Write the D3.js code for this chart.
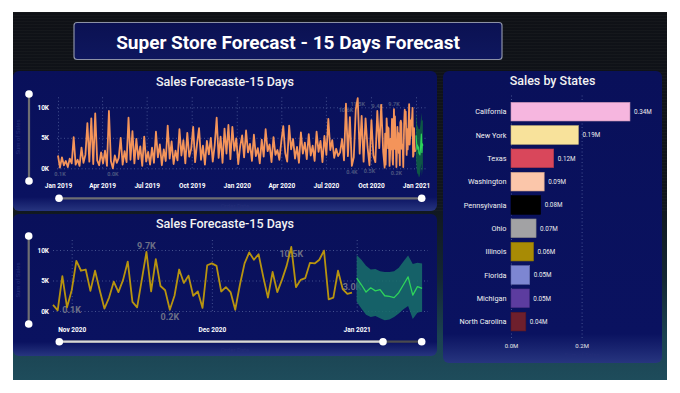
<!DOCTYPE html>
<html>
<head>
<meta charset="utf-8">
<script src="https://cdn.jsdelivr.net/npm/d3@7/dist/d3.min.js"></script>
<style>
  html, body { margin:0; padding:0; background:#fff; }
  svg { display:block; font-family: Roboto, "Open Sans", sans-serif; }
</style>
</head>
<body>
<svg id="dash" width="680" height="393"></svg>
<script>
// ===== data (sales in K) =====
// sampled every 4 days from 1 Jan 2019 to 26 Oct 2020
var salesEvery4Days = [
  2.1, 0.1, 1.8, 0.5, 1.2, 0.2, 1.6, 0.8,
  5.1, 0.6, 1.4, 0.4, 3.4, 0.9, 2.2, 7.4,
  1.1, 8.2, 0.7, 9.0, 1.3, 0.5, 2.6, 0.8,
  2.9, 0.4, 9.4, 1.2, 0.0, 2.1, 0.9, 1.7,
  5.0, 0.6, 2.8, 1.0, 8.3, 1.4, 6.1, 0.8,
  4.8, 1.5, 3.6, 0.4, 5.2, 1.1, 2.7, 0.6,
  3.4, 0.9, 6.0, 1.8, 3.9, 0.5, 3.1, 1.2,
  7.0, 1.6, 4.4, 0.7, 2.9, 1.3, 6.4, 2.1,
  4.6, 0.8, 5.8, 1.9, 3.2, 6.8, 1.0, 4.1,
  6.6, 1.4, 3.7, 0.6, 4.5, 2.3, 5.0, 1.1,
  3.8, 8.3, 1.7, 5.2, 0.9, 6.5, 2.4, 7.1,
  1.5, 6.8, 2.9, 4.9, 0.7, 3.6, 5.4, 1.8,
  6.2, 2.6, 4.0, 1.2, 5.5, 2.0, 3.3, 0.8,
  4.7, 1.9, 6.4, 2.8, 3.9, 1.0, 5.1, 2.2,
  3.0, 1.4, 4.4, 6.9, 2.5, 1.1, 7.0, 3.1,
  4.8, 1.6, 3.5, 0.9, 5.9, 2.4, 4.2, 1.5,
  5.6, 2.1, 3.7, 1.2, 6.0, 2.7, 4.5, 1.0,
  5.3, 2.2, 8.1, 3.0, 4.6, 1.7, 3.2, 2.0,
  2.6, 4.8, 1.3, 10.6, 2.0, 8.4, 0.4, 1.8,
  9.6, 11.5, 2.4, 8.6, 1.1, 8.2, 3.5, 0.5,
  7.9, 2.1, 1.0, 9.4, 3.3, 10.4, 2.7
];
// daily, 28 Oct 2020 to 31 Dec 2020
var salesDaily = [
  1.0, 0.1, 5.7, 0.6,
  3.4, 8.2, 6.6, 6.8, 3.3, 6.6, 3.4, 0.4, 2.2, 4.8,
  3.1, 5.1, 8.1, 1.5, 0.6, 5.1, 9.7, 3.2, 8.5, 4.1,
  3.4, 0.2, 2.5, 6.8, 4.6, 5.8, 2.5, 3.2, 0.5, 7.5,
  7.8, 7.4, 3.2, 3.9, 3.1, 0.2, 4.3, 7.8, 9.6, 8.4,
  9.3, 5.6, 2.2, 6.4, 3.1, 5.1, 7.4, 10.5, 3.9, 5.1,
  5.4, 7.9, 7.8, 8.4, 9.9, 1.9, 2.2, 6.6, 3.6, 2.8, 3.0
];
// 15 day forecast, 1 Jan 2021 to 15 Jan 2021
var forecastSales = [5.4, 4.3, 3.1, 3.8, 3.3, 3.5, 2.5, 2.4, 2.2, 3.0, 4.3, 5.6, 2.6, 4.0, 3.7];
var forecastUpper = [9.2, 8.4, 7.4, 6.8, 6.9, 6.5, 6.4, 6.4, 6.5, 7.1, 8.1, 9.1, 7.7, 7.9, 7.8];
var forecastLower = [1.5, 0.4, -0.6, -1.0, -0.8, -1.2, -1.5, -1.4, -1.0, -0.4, 0.3, 0.8, -1.3, -0.3, -0.1];

var salesTicks = [0, 5, 10];
// [date, value, side]
var overviewLabels = [
  ["2019-01-05", 0.1, "below"], ["2019-04-23", 0.0, "below"],
  ["2020-08-11", 10.6, "below"], ["2020-09-04", 11.5, "below"],
  ["2020-10-14", 9.4, "above"], ["2020-11-17", 9.7, "above"],
  ["2020-08-23", 0.4, "below"], ["2020-09-28", 0.5, "below"],
  ["2020-11-22", 0.2, "below"]
];
var recentLabels = [
  ["2020-10-29", 0.1, "right"], ["2020-11-17", 9.7, "above"],
  ["2020-11-22", 0.2, "below"], ["2020-12-18", 10.5, "below"],
  ["2020-12-31", 3.0, "above"]
];

var states = ["California", "New York", "Texas", "Washington", "Pennsylvania",
              "Ohio", "Illinois", "Florida", "Michigan", "North Carolina"];
var stateSales = [0.337, 0.191, 0.121, 0.094, 0.084, 0.071, 0.064, 0.053, 0.052, 0.042];
var stateColors = ["#f6b6df", "#f8e29b", "#d9475b", "#fbc6aa", "#000000",
                   "#a2a2a4", "#a88b05", "#7d86d2", "#5c3c9f", "#6e1f2d"];
var stateTicks = [0, 0.2];

// ===== setup =====
var parseDay = d3.timeParse("%Y-%m-%d");
var start2019 = new Date(2019, 0, 1);
var startDaily = new Date(2020, 9, 28);
var startForecast = new Date(2021, 0, 1);

var overviewSeries = salesEvery4Days.map(function(v, i){
  return {date: d3.timeDay.offset(start2019, 4 * i), v: v};
}).concat(salesDaily.map(function(v, i){
  return {date: d3.timeDay.offset(startDaily, i), v: v};
}));
var recentSeries = salesDaily.map(function(v, i){
  return {date: d3.timeDay.offset(startDaily, i), v: v};
});
var forecastSeries = forecastSales.map(function(v, i){
  return {date: d3.timeDay.offset(startForecast, i), v: v, hi: forecastUpper[i], lo: forecastLower[i]};
});

var svg = d3.select("#dash");
var defs = svg.append("defs");

function vGradient(id, stops){
  var g = defs.append("linearGradient").attr("id", id)
    .attr("x1", 0).attr("y1", 0).attr("x2", 0).attr("y2", 1);
  stops.forEach(function(s){
    g.append("stop").attr("offset", s[0]).attr("stop-color", s[1]);
  });
}
vGradient("bgGrad", [["0%", "#0f1116"], ["50%", "#10151c"], ["72%", "#132633"], ["88%", "#1a4150"], ["100%", "#1e4c5b"]]);
vGradient("panelGrad", [["0%", "#09105a"], ["90%", "#0a1260"], ["100%", "#27357f"]]);
vGradient("titleGrad", [["0%", "#0b1152"], ["100%", "#0e175e"]]);

// stripes on the dark background
var stripes = defs.append("pattern").attr("id", "stripes")
  .attr("width", 4).attr("height", 3).attr("patternUnits", "userSpaceOnUse");
stripes.append("rect").attr("width", 4).attr("height", 1).attr("fill", "#ffffff").attr("opacity", 0.025);

svg.append("rect").attr("x", 13).attr("y", 12).attr("width", 654).attr("height", 368).attr("fill", "url(#bgGrad)");
svg.append("rect").attr("x", 13).attr("y", 12).attr("width", 654).attr("height", 200).attr("fill", "url(#stripes)");

// title box
svg.append("rect").attr("x", 74).attr("y", 22.5).attr("width", 428).attr("height", 37).attr("rx", 3)
  .attr("fill", "url(#titleGrad)").attr("stroke", "#8c91a6").attr("stroke-width", 1.2);
svg.append("text").attr("x", 288).attr("y", 48.5).attr("text-anchor", "middle")
  .attr("fill", "#ffffff").style("font-size", "19px").style("font-weight", 700)
  .text("Super Store Forecast - 15 Days Forecast");

// panels
function panel(x, y, w, h, title, ty){
  svg.append("rect").attr("x", x).attr("y", y).attr("width", w).attr("height", h).attr("rx", 6)
    .attr("fill", "url(#panelGrad)");
  svg.append("text").attr("x", x + w / 2).attr("y", ty).attr("text-anchor", "middle")
    .attr("fill", "#f2f2f2").style("font-size", "12.5px").style("font-weight", 500)
    .text(title);
}
panel(13, 71, 424, 140, "Sales Forecaste-15 Days", 85.5);
panel(13, 214, 424, 142, "Sales Forecaste-15 Days", 227.5);
panel(443, 71, 219, 292, "Sales by States", 84.5);

function slider(x1, y1, x2, y2, split){
  var g = svg.append("g");
  g.append("line").attr("x1", x1).attr("y1", y1).attr("x2", x2).attr("y2", y2)
    .attr("stroke", split ? "#4a4a4e" : "#6e6e72").attr("stroke-width", 2.2);
  var pts = [[x1, y1], [x2, y2]];
  if(split){
    g.append("line").attr("x1", x1).attr("y1", y1).attr("x2", split).attr("y2", y2)
      .attr("stroke", "#d9d9d9").attr("stroke-width", 2.2);
    pts.push([split, y1]);
  }
  g.selectAll("circle").data(pts).enter().append("circle")
    .attr("cx", function(d){ return d[0]; }).attr("cy", function(d){ return d[1]; })
    .attr("r", 3.8).attr("fill", "#ffffff");
}

function faintText(x, y, txt, rot){
  var t = svg.append("text").attr("x", x).attr("y", y).attr("text-anchor", "middle")
    .attr("fill", "#232d78").style("font-size", "6px").text(txt);
  if(rot) t.attr("transform", "rotate(-90," + x + "," + y + ")");
}

// ===== line chart =====
function lineChart(c){
  var g = svg.append("g");
  var x = d3.scaleTime().domain(c.xDomain).range(c.xRange);
  var y = d3.scaleLinear().domain([0, 10]).range(c.yRange);

  // grid
  g.append("g").attr("transform", "translate(" + c.gridLeft + ",0)")
    .call(d3.axisLeft(y).tickValues(salesTicks).tickSize(-(c.gridRight - c.gridLeft)).tickFormat(""))
    .call(function(a){ a.select(".domain").remove(); })
    .selectAll("line").attr("stroke", "#44518f").attr("stroke-dasharray", "1,2.5");
  g.append("g").attr("transform", "translate(0," + y(0) + ")")
    .call(d3.axisBottom(x).ticks(c.tickEvery).tickSize(-(y(0) - c.gridTop)).tickFormat(""))
    .call(function(a){ a.select(".domain").remove(); })
    .selectAll("line").attr("stroke", "#44518f").attr("stroke-dasharray", "1,2.5");

  // axes labels
  var ya = g.append("g").attr("transform", "translate(" + c.yLabelX + ",0)")
    .call(d3.axisLeft(y).tickValues(salesTicks).tickSize(0).tickPadding(0)
      .tickFormat(function(d){ return d + "K"; }));
  var xa = g.append("g").attr("transform", "translate(0," + c.xLabelY + ")")
    .call(d3.axisBottom(x).ticks(c.tickEvery).tickSize(0).tickPadding(0)
      .tickFormat(d3.timeFormat("%b %Y")));
  [ya, xa].forEach(function(a){
    a.select(".domain").remove();
    a.selectAll("text").attr("fill", "#ffffff").style("font-size", "6.5px").style("font-weight", 700)
      .style("font-family", "Roboto, sans-serif");
  });

  // data labels (behind the line)
  g.append("g").selectAll("text").data(c.labels).enter().append("text")
    .attr("x", function(d){ return x(parseDay(d[0])) + (d[2] == "right" ? c.rightShift : 0); })
    .attr("y", function(d){
      if(d[2] == "above") return y(d[1]) - 3;
      if(d[2] == "below") return y(d[1]) + c.belowShift;
      return y(d[1]) + 3;
    })
    .attr("text-anchor", "middle").attr("fill", c.labelColor)
    .style("font-size", c.labelSize).style("font-weight", 700)
    .text(function(d){ return d3.format(".1f")(d[1]) + "K"; });

  // forecast band and line
  var band = d3.area().x(function(d){ return x(d.date); })
    .y0(function(d){ return y(d.lo); }).y1(function(d){ return y(d.hi); });
  g.append("path").datum(forecastSeries).attr("d", band)
    .attr("fill", c.bandColor).attr("opacity", c.bandOpacity);

  var line = d3.line().x(function(d){ return x(d.date); }).y(function(d){ return y(d.v); });
  g.append("path").datum(c.series).attr("d", line)
    .attr("fill", "none").attr("stroke", c.color).attr("stroke-width", c.width)
    .attr("stroke-linejoin", "round");
  g.append("path").datum(forecastSeries).attr("d", line)
    .attr("fill", "none").attr("stroke", "#2ed35b").attr("stroke-width", c.fWidth)
    .attr("stroke-linejoin", "round");
  return g;
}

lineChart({
  series: overviewSeries,
  xDomain: [start2019, startForecast], xRange: [58, 416],
  yRange: [168.3, 107.3],
  gridLeft: 57, gridRight: 427, gridTop: 95,
  yLabelX: 49, xLabelY: 183.5,
  tickEvery: d3.timeMonth.every(3),
  labels: overviewLabels, labelColor: "#4a557f", labelSize: "5.5px", belowShift: 8, rightShift: 0,
  color: "#f4945a", width: 1.8, fWidth: 1.2,
  bandColor: "#0f6a3f", bandOpacity: 0.8
});
lineChart({
  series: recentSeries,
  xDomain: [new Date(2020, 10, 1), startForecast], xRange: [71.7, 356.7],
  yRange: [311, 250],
  gridLeft: 53, gridRight: 428, gridTop: 238,
  yLabelX: 49, xLabelY: 327,
  tickEvery: d3.timeMonth.every(1),
  labels: recentLabels, labelColor: "#6d7086", labelSize: "9px", belowShift: 10, rightShift: 14,
  color: "#b8940f", width: 1.8, fWidth: 1.3,
  bandColor: "#17706a", bandOpacity: 0.85
});

slider(29, 94, 29, 181);
slider(59, 198.3, 421.7, 198.3);
slider(28.7, 236, 28.7, 324);
slider(59.3, 341.7, 421.7, 341.7, 383);
faintText(235, 208, "Order Date");
faintText(235, 352, "Order Date");
faintText(20, 137, "Sum of Sales", true);
faintText(20, 280, "Sum of Sales", true);

// ===== bar chart =====
var bx = d3.scaleLinear().domain([0, 0.4]).range([511, 652.2]);
var by = d3.scaleBand().domain(states).range([100, 333.3]).paddingInner(0.2).paddingOuter(0.1);
var bars = svg.append("g");

bars.append("g").attr("transform", "translate(0,338)")
  .call(d3.axisBottom(bx).tickValues(stateTicks).tickSize(-245).tickFormat(""))
  .call(function(a){ a.select(".domain").remove(); })
  .selectAll("line").attr("stroke", "#44518f").attr("stroke-dasharray", "1,2.5");

var bxa = bars.append("g").attr("transform", "translate(0,343.5)")
  .call(d3.axisBottom(bx).tickValues(stateTicks).tickSize(0).tickPadding(0)
    .tickFormat(function(d){ return d3.format(".1f")(d) + "M"; }));
bxa.select(".domain").remove();
bxa.selectAll("text").attr("fill", "#e8e8e8").style("font-size", "6px").style("font-family", "Roboto, sans-serif");
faintText(582, 357, "Sum of Sales");

bars.selectAll("rect.bar").data(states).enter().append("rect").attr("class", "bar")
  .attr("x", bx(0)).attr("y", function(d){ return by(d); })
  .attr("width", function(d, i){ return bx(stateSales[i]) - bx(0); })
  .attr("height", by.bandwidth())
  .attr("fill", function(d, i){ return stateColors[i]; })
  .attr("stroke", function(d, i){ return d3.color(stateColors[i]).darker(0.6); })
  .attr("stroke-width", 0.6);

bars.selectAll("text.cat").data(states).enter().append("text").attr("class", "cat")
  .attr("x", 506.5).attr("y", function(d){ return by(d) + by.bandwidth() / 2 + 2.6; })
  .attr("text-anchor", "end").attr("fill", "#f2f2f2")
  .style("font-size", "7.3px").style("font-weight", 400)
  .text(function(d){ return d; });

bars.selectAll("text.val").data(states).enter().append("text").attr("class", "val")
  .attr("x", function(d, i){ return bx(stateSales[i]) + 4; })
  .attr("y", function(d){ return by(d) + by.bandwidth() / 2 + 2.5; })
  .attr("fill", "#eeeeee").style("font-size", "6.3px")
  .text(function(d, i){ return d3.format(".2f")(stateSales[i]) + "M"; });
</script>
</body>
</html>
